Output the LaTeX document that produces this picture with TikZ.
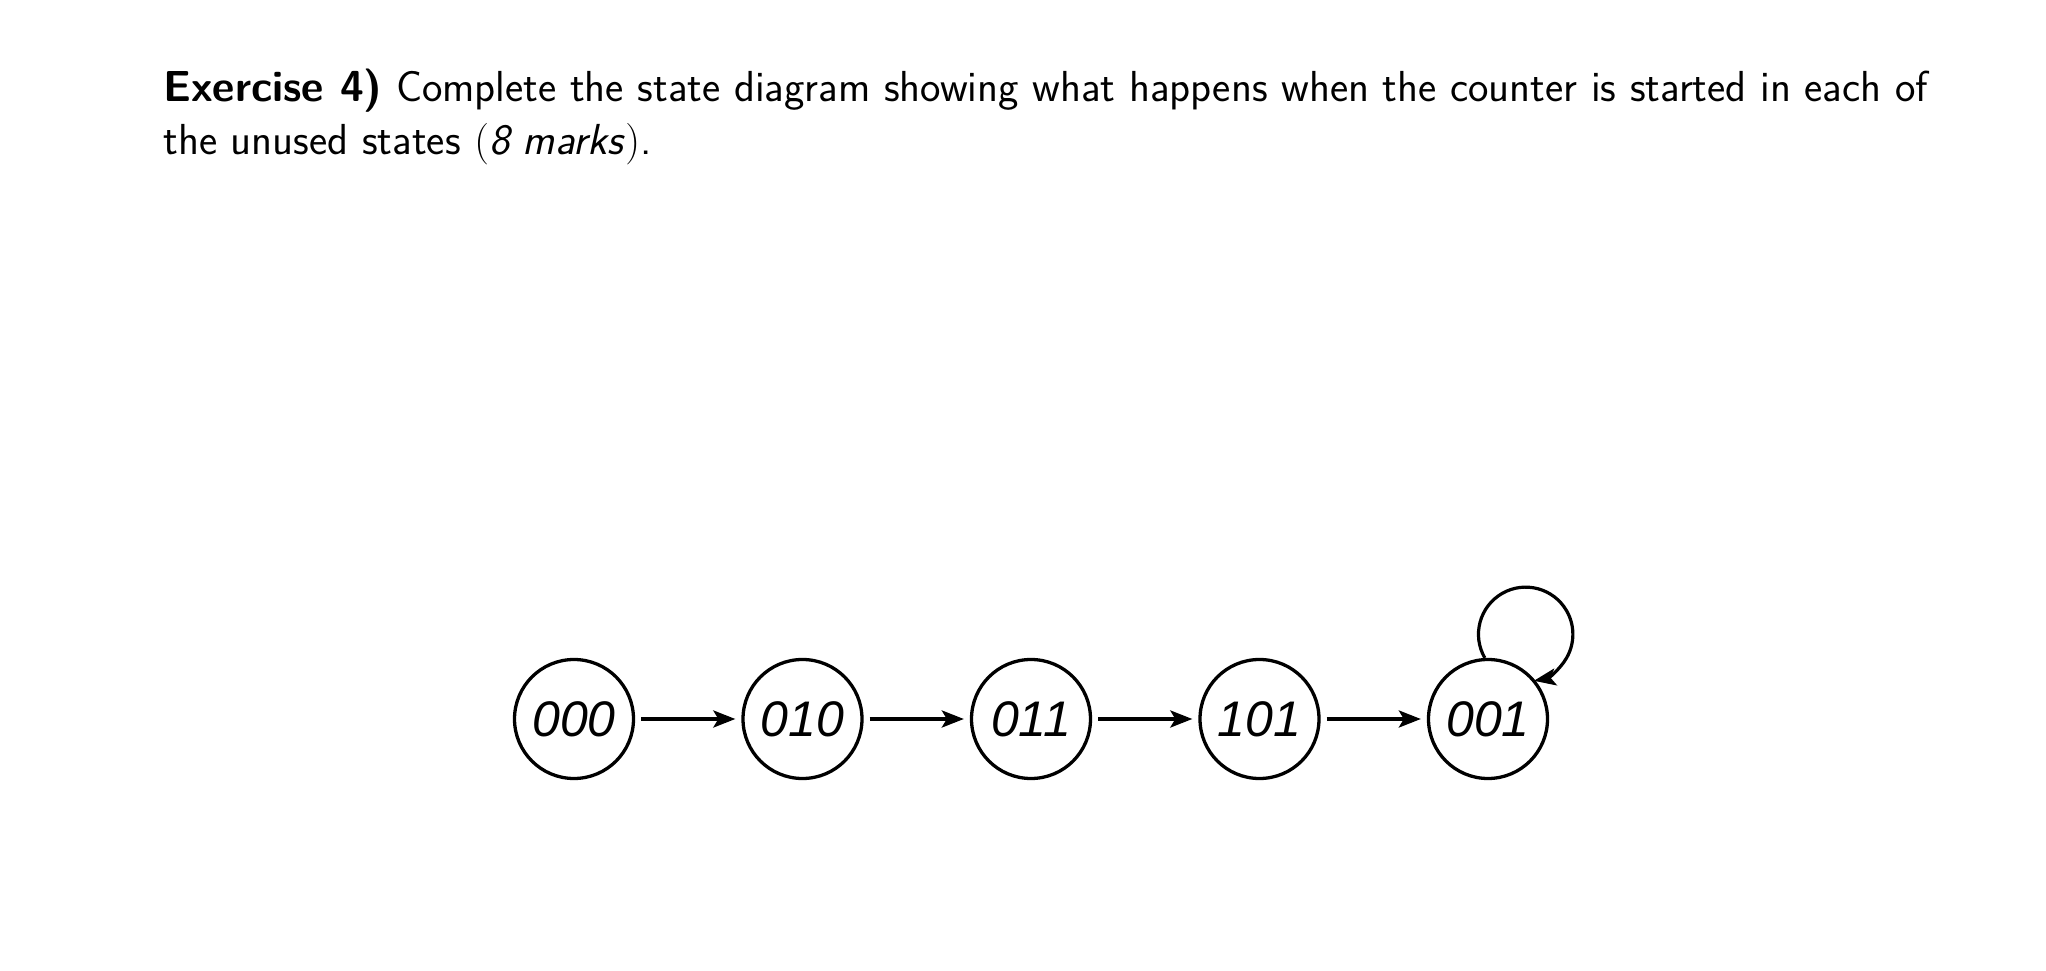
\documentclass[tikz,border=0pt]{standalone}
\usepackage{fontspec}
\newfontfamily\nodefont{Liberation Sans}[UprightFont=* Italic]
\usetikzlibrary{arrows.meta}
\tikzset{
  txt/.style={inner sep=0pt, font=\sffamily\fontsize{21.7}{26.5}\selectfont},
  state/.style={circle, draw, line width=1.65pt, minimum size=59.5pt, inner sep=0pt,
    font=\nodefont\fontsize{25}{25}\selectfont},
  arr/.style={line width=1.8pt, -{Stealth[length=11pt,width=8.5pt,inset=2.5pt]},
    shorten <=3pt, shorten >=3pt},
  looparr/.style={line width=1.6pt, -{Stealth[length=11pt,width=8.5pt,inset=2.5pt]}}
}
\begin{document}
\begin{tikzpicture}[x=0.5pt,y=0.5pt]
\useasboundingbox (0,0) rectangle (2046,970);
\node[txt, anchor=base west] (l1) at (163,868) {\textbf{Exercise 4)} Complete the state diagram showing what happens when the counter is started in each of};
\node[txt, anchor=base west] (l2) at (163,815) {the unused states $($\textit{8 marks}$)$.};
\node[state] (n1) at (574,251) {000};
\node[state] (n2) at (802.5,251) {010};
\node[state] (n3) at (1031,251) {011};
\node[state] (n4) at (1259.5,251) {101};
\node[state] (n5) at (1488,251) {001};
\draw[arr] (n1) -- (n2);
\draw[arr] (n2) -- (n3);
\draw[arr] (n3) -- (n4);
\draw[arr] (n4) -- (n5);
\draw[looparr] (n5.93) arc[start angle=210, end angle=-80, radius=23.6pt];
\end{tikzpicture}
\end{document}
